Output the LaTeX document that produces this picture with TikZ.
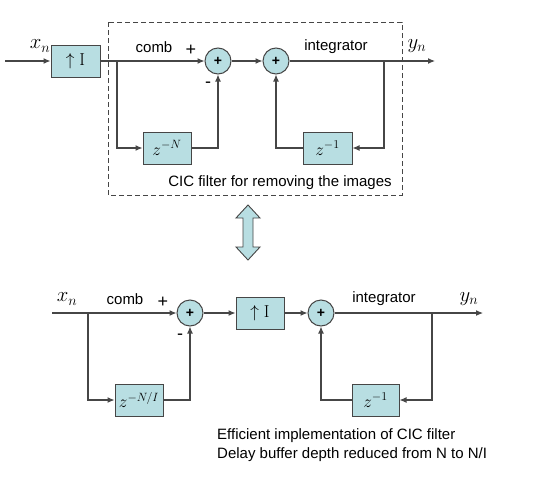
\documentclass[tikz,border=0pt]{standalone}
\usepackage[no-math]{fontspec}
\setmainfont{Liberation Sans}
\usetikzlibrary{arrows.meta}
\definecolor{cyanfill}{RGB}{184,222,226}
\definecolor{linegray}{RGB}{70,70,70}
\begin{document}
\begin{tikzpicture}[x=1pt,y=-1pt,
  every node/.style={inner sep=0pt},
  wire/.style={draw=linegray,line width=1.1pt},
  arr/.style={wire,-{Latex[length=7pt,width=6pt]}},
  blk/.style={draw=linegray,line width=1pt,fill=cyanfill,minimum width=48pt,minimum height=32pt},
  zblk/.style={blk,font=\fontsize{17}{18}\selectfont},
  upblk/.style={blk,font=\fontsize{19}{19}\selectfont},
  sumnode/.style={circle,draw=linegray,line width=1pt,fill=cyanfill,minimum size=26pt,font=\fontsize{14}{14}\selectfont\bfseries},
  lbl/.style={font=\fontsize{15}{18}\selectfont},
  sgn/.style={font=\fontsize{18}{18}\selectfont},
  mlbl/.style={font=\fontsize{22}{24}\selectfont}]
\useasboundingbox (0,0) rectangle (554,482);
\fill[white] (0,0) rectangle (554,482);

% ---------------- top ----------------
\draw[dashed,linegray,line width=0.9pt,dash pattern=on 5pt off 3pt] (108,22) rectangle (402,195);
\coordinate (in1) at (5,61);
\node[mlbl] (xn1) at (40,46) {$x_n$};
\node[upblk,minimum width=49pt] (up1) at (75.5,61) {$\uparrow\mathrm{I}$};
\node[sumnode] (s1) at (218,61) {+};
\node[sumnode] (s2) at (276,61) {+};
\node[zblk] (dN) at (167,148) {$z^{-N}$};
\node[zblk,minimum width=49pt] (d1) at (327.5,148) {$z^{-1}$};
\coordinate (b1) at (117,61);
\coordinate (b2) at (384,61);
\coordinate (out1) at (435,61);
\node[lbl] (comb1) at (154,47) {comb};
\node[sgn] (p1) at (191,50) {+};
\node[sgn] (m1) at (208,85) {-};
\node[lbl] (int1) at (336,47) {integrator};
\node[mlbl] (yn1) at (417,46) {$y_n$};
\node[lbl] (cap1) at (280,183) {CIC filter for removing the images};

\draw[arr] (in1) -- (up1.west);
\draw[arr] (up1.east) -- (s1.west);
\draw[arr] (b1) |- (dN.west);
\draw[arr] (dN.east) -| (s1.south);
\draw[arr] (s1.east) -- (s2.west);
\draw[arr] (s2.east) -- (out1);
\draw[arr] (b2) |- (d1.east);
\draw[arr] (d1.west) -| (s2.south);

% ---------------- double arrow ----------------
\draw[linegray,line width=0.9pt,fill=cyanfill,line join=miter]
  (248,205) -- (260,218) -- (253,218) -- (253,247) -- (260,247) -- (248,260)
  -- (236,247) -- (243,247) -- (243,218) -- (236,218) -- cycle;

% ---------------- bottom ----------------
\coordinate (in2) at (52,313);
\node[mlbl] (xn2) at (67,299) {$x_n$};
\coordinate (b3) at (88,313);
\node[zblk] (dNI) at (139,400) {$z^{-N/I}$};
\node[sumnode] (s3) at (190,313) {+};
\node[upblk] (up2) at (260,313) {$\uparrow\mathrm{I}$};
\node[sumnode] (s4) at (321,313) {+};
\coordinate (b4) at (432,313);
\coordinate (out2) at (483,313);
\node[zblk,minimum width=47pt] (d2) at (375.5,400) {$z^{-1}$};
\node[lbl] (comb2) at (125,299) {comb};
\node[sgn] (p2) at (163,302) {+};
\node[sgn] (m2) at (180,337) {-};
\node[lbl] (int2) at (384,299) {integrator};
\node[mlbl] (yn2) at (469,299) {$y_n$};
\node[lbl,anchor=west] (t1) at (217,436) {Efficient implementation of CIC filter};
\node[lbl,anchor=west] (t2) at (217,455) {Delay buffer depth reduced from N to N/I};

\draw[wire] (in2) -- (b3);
\draw[arr] (b3) -- (s3.west);
\draw[arr] (b3) |- (dNI.west);
\draw[arr] (dNI.east) -| (s3.south);
\draw[arr] (s3.east) -- (up2.west);
\draw[arr] (up2.east) -- (s4.west);
\draw[arr] (s4.east) -- (out2);
\draw[arr] (b4) |- (d2.east);
\draw[arr] (d2.west) -| (s4.south);
\end{tikzpicture}
\end{document}
